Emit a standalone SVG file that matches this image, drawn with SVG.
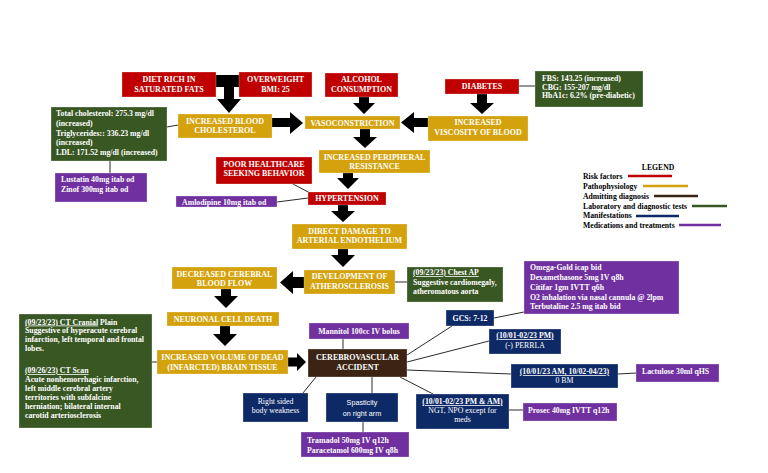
<svg xmlns="http://www.w3.org/2000/svg" width="768" height="473" viewBox="0 0 768 473">
<style>
text{font-family:"Liberation Serif","Times New Roman",serif;font-weight:bold;fill:#fff;font-size:7.8px}
.c{text-anchor:middle}
.k{font-size:8px}
.n{font-weight:normal}
.u{text-decoration:underline}
.sans{font-family:"Liberation Sans",Arial,sans-serif;font-weight:normal;font-size:7.2px}
.red{fill:#C00000}
.gold{fill:#D4A20C}
.grn{fill:#385723}
.nav{fill:#0E2A66}
.pur{fill:#7030A0}
.brn{fill:#3C2415}
rect{stroke:#ffffff;stroke-opacity:.35;stroke-width:.8}
.blk{fill:#000}
.ln{stroke:#2a2a2a;stroke-width:1;fill:none}
.leg text{fill:#000;font-size:7.7px}
.leg line{stroke-width:2.5}
</style>
<rect width="768" height="473" fill="#fff" stroke="none"/>

<g id="connectors">
<polygon class="blk" points="216,75 239,75 239,87 234,87 234,99 241,99 229,113 217,99 224,99 224,87 216,87"/>
<polygon class="blk" points="272,118 290,118 290,112 303,123 290,134 290,127 272,127"/>
<polygon class="blk" points="359,97 369,97 369,103 375,103 364,114 353,103 359,103"/>
<polygon class="blk" points="428,118 414,118 414,112 401,122.5 414,133 414,127 428,127"/>
<polygon class="blk" points="477,94 487,94 487,103 494,103 482,114 470,103 477,103"/>
<polygon class="blk" points="360,129 370,129 370,137 377,137 365,148 353,137 360,137"/>
<polygon class="blk" points="343,173 353,173 353,178 359,178 348,189 337,178 343,178"/>
<polygon class="blk" points="338,205 348,205 348,211 355,211 343,222 331,211 338,211"/>
<polygon class="blk" points="338,249 348,249 348,255 355,255 343,267 331,255 338,255"/>
<polygon class="blk" points="304,277 293,277 293,271 280,282.5 293,294 293,288 304,288"/>
<polygon class="blk" points="221,289 231,289 231,296 238,296 226,308 214,296 221,296"/>
<polygon class="blk" points="220,326 230,326 230,334 237,334 225,346 213,334 220,334"/>
<polygon class="blk" points="288,357.5 297,357.5 297,353 306,362 297,371 297,366.5 288,366.5"/>
<line class="ln" x1="167" y1="127" x2="178" y2="125"/>
<line class="ln" x1="110" y1="161" x2="110" y2="173"/>
<line class="ln" x1="519" y1="86" x2="535" y2="86"/>
<line class="ln" x1="293" y1="184" x2="310" y2="193"/>
<line class="ln" x1="277" y1="202" x2="308" y2="198"/>
<line class="ln" x1="395" y1="282" x2="407" y2="282"/>
<line class="ln" x1="494" y1="318" x2="524" y2="312"/>
<line class="ln" x1="407" y1="355" x2="452" y2="326"/>
<line class="ln" x1="152" y1="362" x2="157" y2="362"/>
<line class="ln" x1="343" y1="339" x2="343" y2="349"/>
<line class="ln" x1="407" y1="362" x2="489" y2="341"/>
<line class="ln" x1="407" y1="370" x2="511" y2="374"/>
<line class="ln" x1="618" y1="374" x2="636" y2="373"/>
<line class="ln" x1="400" y1="377" x2="433" y2="394"/>
<line class="ln" x1="509" y1="410" x2="523" y2="410"/>
<line class="ln" x1="316" y1="377" x2="303" y2="393"/>
<line class="ln" x1="372" y1="377" x2="372" y2="393"/>
<line class="ln" x1="363" y1="422" x2="363" y2="432"/>
</g>

<g id="diet"><rect class="red" x="122" y="72" width="94" height="25"/>
<text class="c k" x="169" y="82">DIET RICH IN</text><text class="c k" x="169" y="92">SATURATED FATS</text></g>
<g id="overweight"><rect class="red" x="239" y="72" width="73" height="25"/>
<text class="c k" x="275.5" y="82">OVERWEIGHT</text><text class="c k" x="275.5" y="92">BMI: 25</text></g>
<g id="alcohol"><rect class="red" x="325" y="73" width="73" height="24"/>
<text class="c k" x="361.5" y="82">ALCOHOL</text><text class="c k" x="361.5" y="92">CONSUMPTION</text></g>
<g id="diabetes"><rect class="red" x="445" y="79" width="74" height="15"/>
<text class="c k" x="482" y="89">DIABETES</text></g>
<g id="fbs"><rect class="grn" x="535" y="71" width="108" height="36"/>
<text x="542" y="81">FBS: 143.25 (increased)</text><text x="542" y="89.5">CBG: 155-207 mg/dl</text><text x="542" y="98">HbA1c: 6.2% (pre-diabetic)</text></g>
<g id="cholesterol"><rect class="gold" x="178" y="114" width="94" height="24"/>
<text class="c k" x="225" y="124">INCREASED BLOOD</text><text class="c k" x="225" y="133">CHOLESTEROL</text></g>
<g id="lipids"><rect class="grn" x="51" y="107" width="116" height="54"/>
<text x="56" y="116">Total cholesterol: 275.3 mg/dl</text><text x="56" y="125.5">(increased)</text><text x="56" y="135.5">Triglycerides:: 336.23 mg/dl</text><text x="56" y="145">(increased)</text><text x="56" y="155">LDL: 171.52 mg/dl (increased)</text></g>
<g id="lustatin"><rect class="pur" x="55" y="173" width="92" height="29"/>
<text x="61" y="182">Lustatin 40mg itab od</text><text x="61" y="192">Zinof 300mg itab od</text></g>
<g id="vasoconstriction"><rect class="gold" x="305" y="116" width="95" height="13"/>
<text class="c k" x="352.5" y="125.5">VASOCONSTRICTION</text></g>
<g id="viscosity"><rect class="gold" x="428" y="116" width="100" height="25"/>
<text class="c k" x="478" y="125">INCREASED</text><text class="c k" x="478" y="135">VISCOSITY OF BLOOD</text></g>
<g id="peripheral"><rect class="gold" x="319" y="150" width="111" height="23"/>
<text class="c k" x="374.5" y="160">INCREASED PERIPHERAL</text><text class="c k" x="374.5" y="169">RESISTANCE</text></g>
<g id="poorhealthcare"><rect class="red" x="216" y="157" width="96" height="27"/>
<text class="c k" x="264" y="167">POOR HEALTHCARE</text><text class="c k" x="264" y="176">SEEKING BEHAVIOR</text></g>
<g id="hypertension"><rect class="red" x="308" y="192" width="78" height="13"/>
<text class="c k" x="347" y="201">HYPERTENSION</text></g>
<g id="amlodipine"><rect class="pur" x="176" y="196" width="101" height="11"/>
<text x="182" y="204.5">Amlodipine 10mg itab od</text></g>
<g id="damage"><rect class="gold" x="292" y="224" width="115" height="25"/>
<text class="c k" x="349.5" y="234">DIRECT DAMAGE TO</text><text class="c k" x="349.5" y="243">ARTERIAL ENDOTHELIUM</text></g>
<g id="atherosclerosis"><rect class="gold" x="304" y="270" width="91" height="24"/>
<text class="c k" x="349.5" y="279">DEVELOPMENT OF</text><text class="c k" x="349.5" y="288.5">ATHEROSCLEROSIS</text></g>
<g id="chestap"><rect class="grn" x="407" y="267" width="96" height="35"/>
<text class="u" x="413" y="275">(09/23/23) Chest AP</text><text x="413" y="284.5">Suggestive cardiomegaly,</text><text x="413" y="294">atheromatous aorta</text></g>
<g id="cerebralflow"><rect class="gold" x="172" y="267" width="105" height="22"/>
<text class="c k" x="224.5" y="277">DECREASED CEREBRAL</text><text class="c k" x="224.5" y="286">BLOOD FLOW</text></g>
<g id="neuronal"><rect class="gold" x="167" y="312" width="112" height="14"/>
<text class="c k" x="223" y="321.5">NEURONAL CELL DEATH</text></g>
<g id="omega"><rect class="pur" x="524" y="261" width="155" height="53"/>
<text x="530" y="270">Omega-Gold icap bid</text><text x="530" y="280">Dexamethasone 5mg IV q8h</text><text x="530" y="289.5">Citifar 1gm IVTT q6h</text><text x="530" y="299.5">O2 inhalation via nasal cannula @ 2lpm</text><text x="530" y="309">Terbutaline 2.5 mg itab bid</text></g>
<g id="gcs"><rect class="nav" x="446" y="310" width="48" height="16"/>
<text class="c" x="470" y="320.5">GCS: 7-12</text></g>
<g id="ctscan"><rect class="grn" x="19" y="314" width="133" height="114"/>
<text x="25" y="324.5"><tspan class="u">(09/23/23) CT Cranial</tspan> Plain</text>
<text x="25" y="333">Suggestive of hyperacute cerebral</text><text x="25" y="342">infarction, left temporal and frontal</text><text x="25" y="351">lobes.</text>
<text class="u" x="25" y="373">(09/26/23) CT Scan</text>
<text x="25" y="382">Acute nonhemorrhagic infarction,</text><text x="25" y="391">left middle cerebral artery</text><text x="25" y="400">territories with subfalcine</text><text x="25" y="409">herniation; bilateral internal</text><text x="25" y="418">carotid arteriosclerosis</text></g>
<g id="mannitol"><rect class="pur" x="309" y="323" width="100" height="16"/>
<text class="c" x="359" y="333.5">Mannitol 100cc IV bolus</text></g>
<g id="infarcted"><rect class="gold" x="157" y="350" width="131" height="24"/>
<text class="c k" x="222.5" y="360">INCREASED VOLUME OF DEAD</text><text class="c k" x="222.5" y="369.5">(INFARCTED) BRAIN TISSUE</text></g>
<g id="cva"><rect class="brn" x="308" y="349" width="99" height="28"/>
<text class="c k" x="357.5" y="360">CEREBROVASCULAR</text><text class="c k" x="357.5" y="369.5">ACCIDENT</text></g>
<g id="perrla"><rect class="nav" x="489" y="329" width="72" height="25"/>
<text class="c u" x="525" y="338">(10/01-02/23 PM)</text><text class="c n" x="525" y="348">(-) PERRLA</text></g>
<g id="bm"><rect class="nav" x="511" y="364" width="107" height="24"/>
<text class="c u" x="564.5" y="374">(10/01/23 AM, 10/02-04/23)</text><text class="c n" x="564.5" y="383">0 BM</text></g>
<g id="lactulose"><rect class="pur" x="636" y="364" width="83" height="18"/>
<text x="642" y="374">Lactulose 30ml qHS</text></g>
<g id="ngt"><rect class="nav" x="416" y="394" width="93" height="35"/>
<text class="c u" x="462.5" y="404">(10/01-02/23 PM &amp; AM)</text><text class="c n" x="462.5" y="413">NGT, NPO except for</text><text class="c n" x="462.5" y="422">meds</text></g>
<g id="prosec"><rect class="pur" x="523" y="403" width="94" height="18"/>
<text x="528" y="413">Prosec 40mg IVTT q12h</text></g>
<g id="weakness"><rect class="nav" x="243" y="393" width="65" height="29"/>
<text class="c n" x="275.5" y="404">Right sided</text><text class="c n" x="275.5" y="412.5">body weakness</text></g>
<g id="spasticity"><rect class="nav" x="326" y="393" width="72" height="29"/>
<text class="c sans" x="362" y="405">Spasticity</text><text class="c sans" x="362" y="416">on right arm</text></g>
<g id="tramadol"><rect class="pur" x="301" y="432" width="108" height="25"/>
<text x="307" y="443">Tramadol 50mg IV q12h</text><text x="307" y="453">Paracetamol 600mg IV q8h</text></g>

<g id="legend" class="leg">
<text class="c" x="658" y="169.5">LEGEND</text>
<text x="583" y="178.5">Risk factors</text><line x1="628" y1="176" x2="672" y2="176" stroke="#C00000"/>
<text x="583" y="188.5">Pathophysiology</text><line x1="643" y1="186" x2="688" y2="186" stroke="#D4A20C"/>
<text x="583" y="198.5">Admitting diagnosis</text><line x1="654" y1="196" x2="698" y2="196" stroke="#3C2415"/>
<text x="583" y="208.5">Laboratory and diagnostic tests</text><line x1="692" y1="206" x2="727" y2="206" stroke="#385723"/>
<text x="583" y="218">Manifestations</text><line x1="636" y1="216" x2="679" y2="216" stroke="#0E2A66"/>
<text x="583" y="228">Medications and treatments</text><line x1="679" y1="225" x2="721" y2="225" stroke="#7030A0"/>
</g>
</svg>
